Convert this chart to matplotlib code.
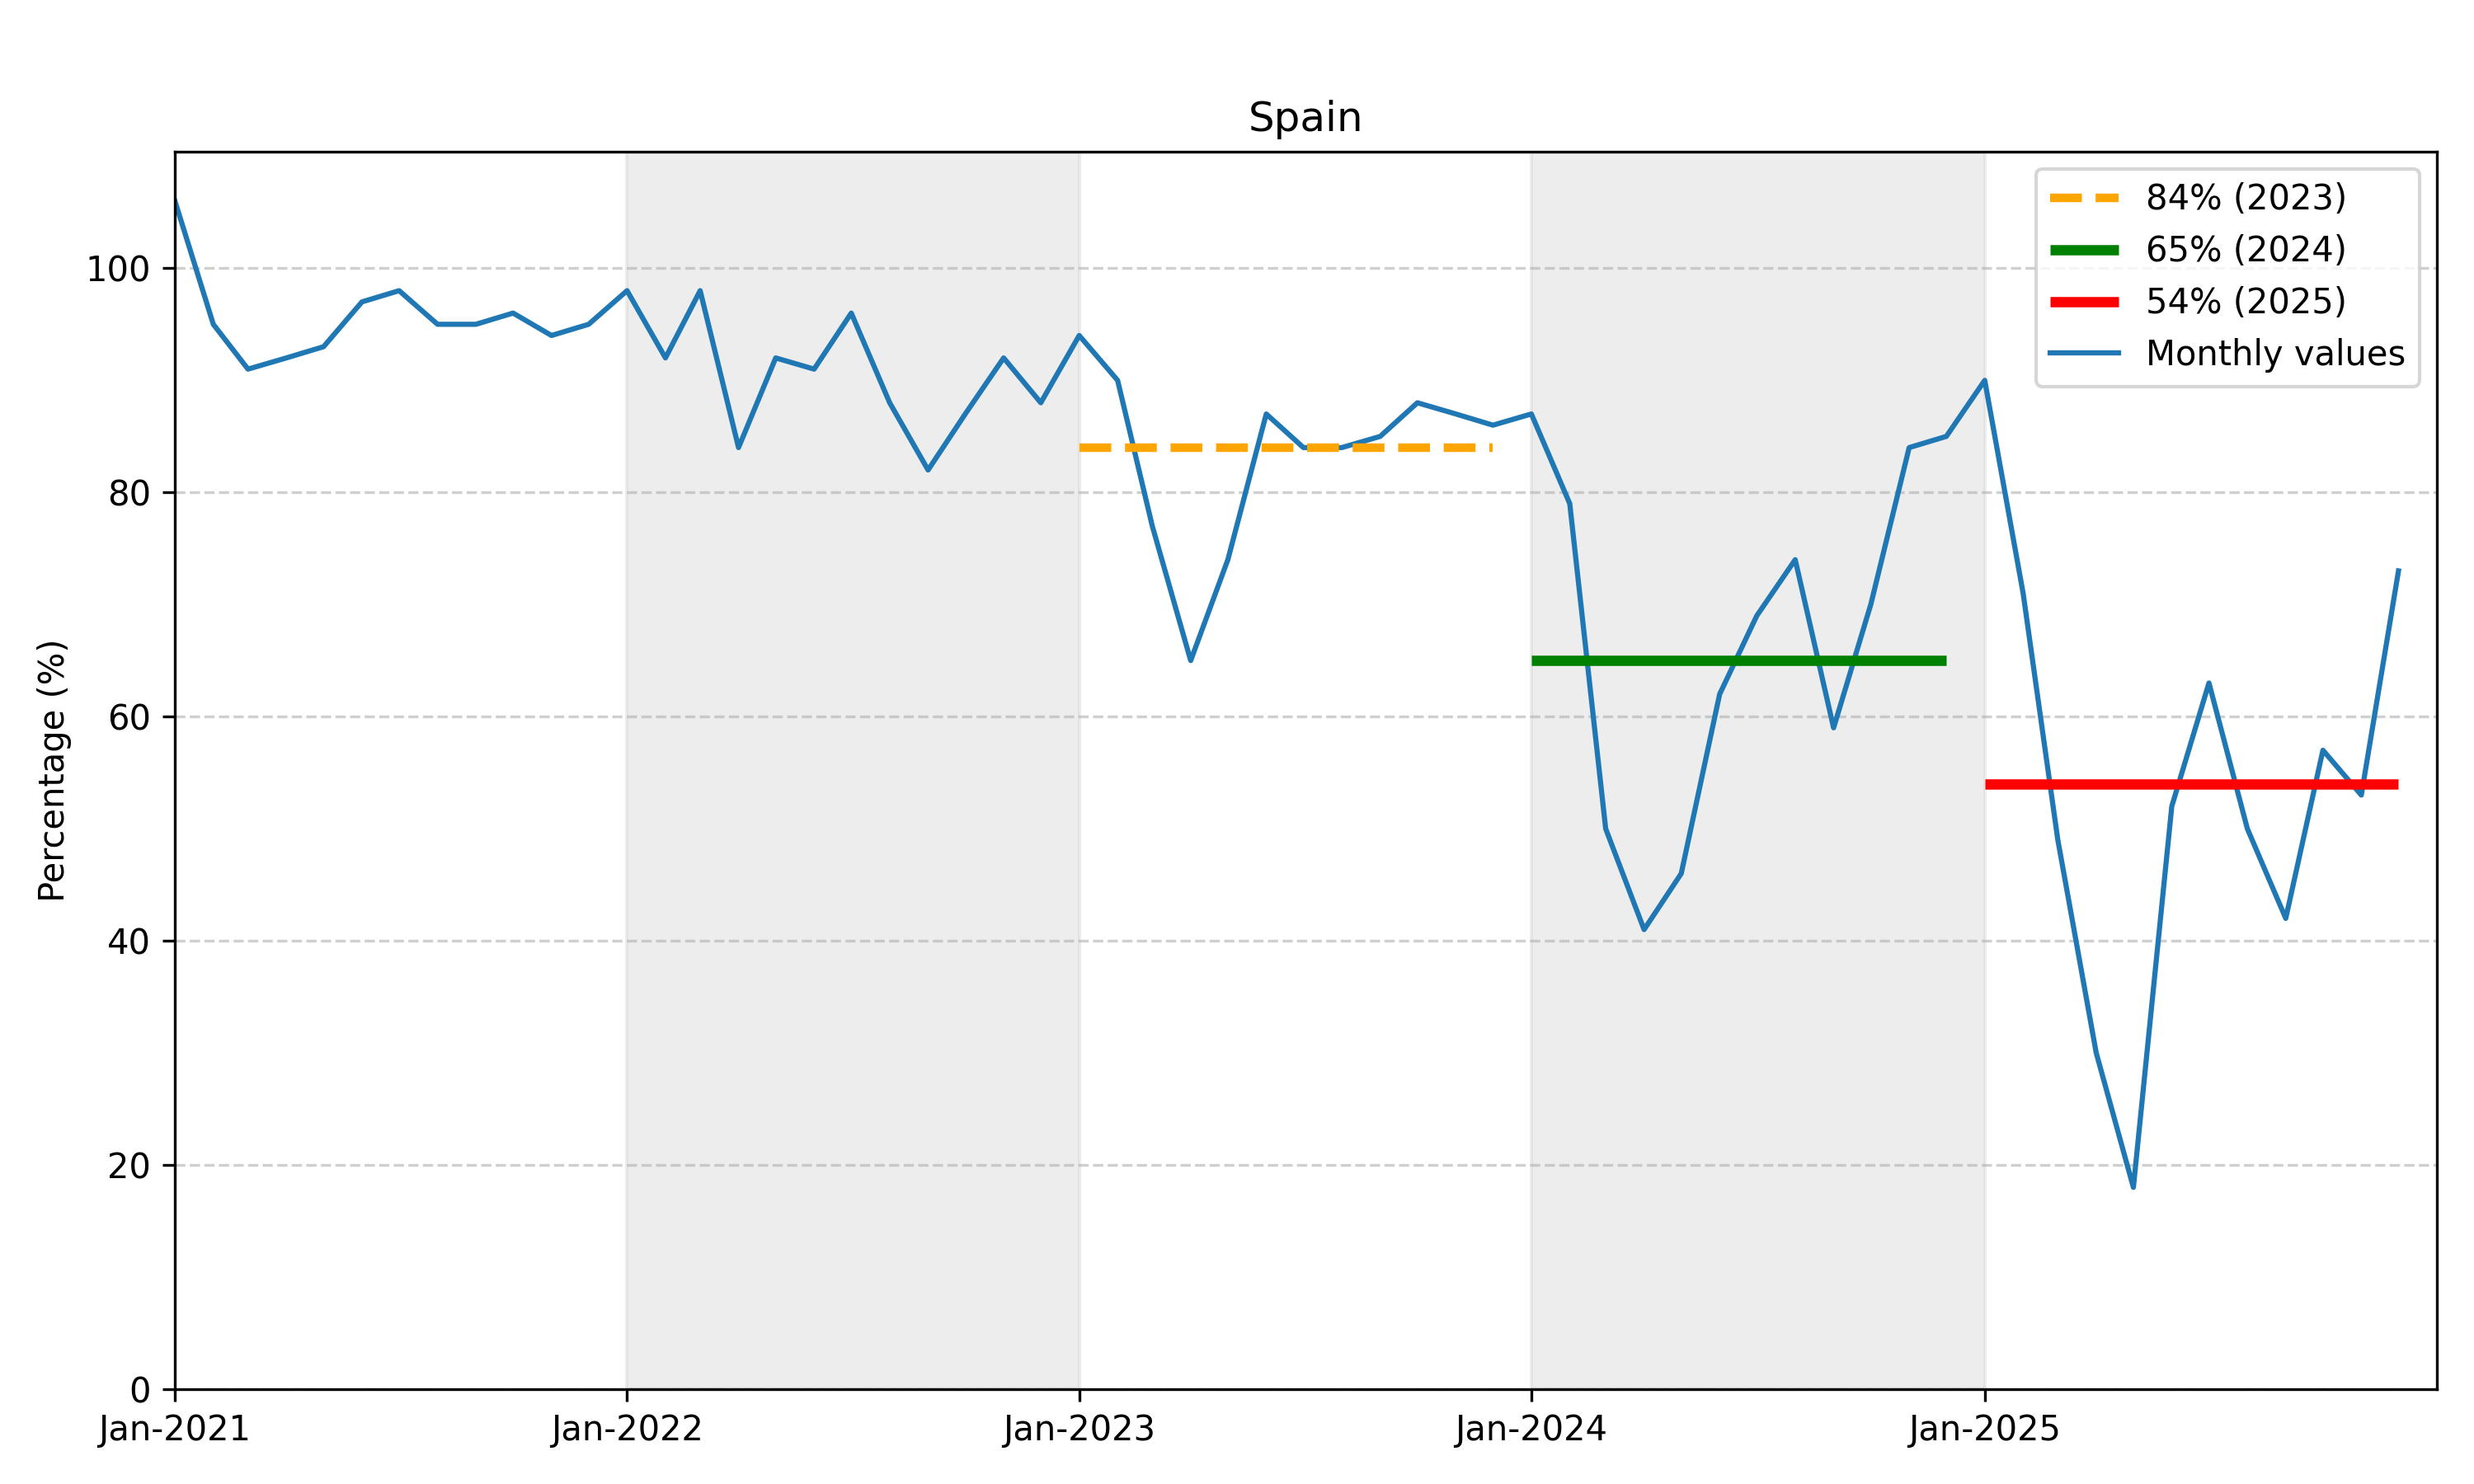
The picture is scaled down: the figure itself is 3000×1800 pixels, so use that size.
import matplotlib
matplotlib.use("Agg")
import matplotlib.pyplot as plt
import matplotlib.dates as mdates
import pandas as pd

# ---- data ----
title = "Spain"
ylabel = "Percentage (%)"
start_month = "2021-01-01"
values_2021 = [106, 95, 91, 92, 93, 97, 98, 95, 95, 96, 94, 95]
values_2022 = [98, 92, 98, 84, 92, 91, 96, 88, 82, 87, 92, 88]
values_2023 = [94, 90, 77, 65, 74, 87, 84, 84, 85, 88, 87, 86]
values_2024 = [87, 79, 50, 41, 46, 62, 69, 74, 59, 70, 84, 85]
values_2025 = [90, 71, 49, 30, 18, 52, 63, 50, 42, 57, 53, 73]
mean_years = [2023, 2024, 2025]
mean_values = [84, 65, 54]
mean_colors = ["orange", "green", "red"]
mean_styles = ["--", "-", "-"]
mean_widths = [2.5, 3, 3]
shaded_years = [2022, 2024]
tick_years = [2021, 2022, 2023, 2024, 2025]

monthly = values_2021 + values_2022 + values_2023 + values_2024 + values_2025
dates = pd.date_range(start_month, periods=len(monthly), freq="MS")
series = pd.Series(monthly, index=dates)

fig = plt.figure(figsize=(10, 6), dpi=300)
ax = fig.add_axes([0.0707, 0.0639, 0.985 - 0.0707, 0.8978 - 0.0639])

for yr in shaded_years:
    ax.axvspan(pd.Timestamp(f"{yr}-01-01"), pd.Timestamp(f"{yr + 1}-01-01"),
               color="lightgray", alpha=0.4, zorder=0)

line_monthly, = ax.plot(series.index, series.values, color="#1f77b4",
                        linewidth=1.5, label="Monthly values", zorder=2)

mean_handles = []
for yr, m, c, ls, lw in zip(mean_years, mean_values, mean_colors, mean_styles, mean_widths):
    yr_idx = series[str(yr)].index
    h, = ax.plot([yr_idx[0], yr_idx[-1]], [m, m], color=c, linestyle=ls,
                 linewidth=lw, label=f"{m}% ({yr})", zorder=3,
                 solid_capstyle="butt", dash_capstyle="butt")
    mean_handles.append(h)

ax.set_title(title, fontsize=12)
ax.set_ylabel(ylabel)
ax.grid(axis="y", linestyle="--", alpha=0.6)
ax.set_axisbelow(True)

ax.set_xticks([pd.Timestamp(f"{y}-01-01") for y in tick_years])
ax.xaxis.set_major_formatter(mdates.DateFormatter("%b-%Y"))
ax.set_xlim(pd.Timestamp("2021-01-01"), pd.Timestamp("2026-01-01"))
ax.set_ylim(bottom=0)

ax.legend(handles=mean_handles + [line_monthly], loc="upper right")

fig.savefig("out.png", dpi=300)
